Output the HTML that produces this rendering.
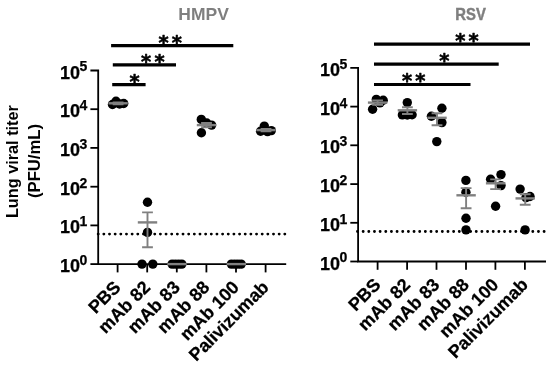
<!DOCTYPE html>
<html><head><meta charset="utf-8"><title>Lung viral titer</title>
<style>
html,body{margin:0;padding:0;background:#fff;}
svg{display:block;}
text{font-family:"Liberation Sans",Arial,sans-serif;font-weight:bold;fill:#000;}
.tk,.sup,.xl{stroke:#000;stroke-width:0.25px;}
circle{fill:#000;}
.axl{fill:none;stroke:#000;stroke-width:1.8;}
.lod{stroke:#000;stroke-width:2.9;stroke-linecap:round;stroke-dasharray:0 5.655;}
.eb{fill:none;stroke:#808080;stroke-width:1.9;}
.em{stroke:#808080;stroke-width:2.4;}
.sg{stroke:#000;stroke-width:3.2;}
.tk{font-size:18px;}
.sup{font-size:14px;}
.xl{font-size:18px;}
.st{font-family:"DejaVu Sans",sans-serif;font-size:20px;letter-spacing:3.25px;stroke:#000;stroke-width:0.6px;stroke-linejoin:round;}
.ti{font-size:17px;fill:#7f7f7f;}
.ti2{stroke:#7f7f7f;stroke-width:0.45px;}
.yl{font-size:17px;}
</style></head><body>
<svg width="550" height="370" viewBox="0 0 550 370">
<rect width="550" height="370" fill="#fff"/>
<text x="203.6" y="19.7" text-anchor="middle" class="ti" textLength="50.5" lengthAdjust="spacingAndGlyphs">HMPV</text>
<text x="470.6" y="19.8" text-anchor="middle" class="ti ti2" textLength="30.5" lengthAdjust="spacingAndGlyphs">RSV</text>
<line x1="98.2" y1="234.1" x2="286.2" y2="234.1" class="lod"/>
<path d="M90.4 70.5 H98.2 V264.1 H286.2" class="axl"/>
<text x="80.1" y="78.5" text-anchor="end" class="tk">10</text>
<text x="79.5" y="71.4" class="sup">5</text>
<line x1="90.4" y1="109.2" x2="98.2" y2="109.2" class="axl"/>
<text x="80.1" y="117.2" text-anchor="end" class="tk">10</text>
<text x="79.5" y="110.1" class="sup">4</text>
<line x1="90.4" y1="147.9" x2="98.2" y2="147.9" class="axl"/>
<text x="80.1" y="155.9" text-anchor="end" class="tk">10</text>
<text x="79.5" y="148.8" class="sup">3</text>
<line x1="90.4" y1="186.7" x2="98.2" y2="186.7" class="axl"/>
<text x="80.1" y="194.7" text-anchor="end" class="tk">10</text>
<text x="79.5" y="187.6" class="sup">2</text>
<line x1="90.4" y1="225.4" x2="98.2" y2="225.4" class="axl"/>
<text x="80.1" y="233.4" text-anchor="end" class="tk">10</text>
<text x="79.5" y="226.3" class="sup">1</text>
<line x1="90.4" y1="264.1" x2="98.2" y2="264.1" class="axl"/>
<text x="80.1" y="272.1" text-anchor="end" class="tk">10</text>
<text x="79.5" y="265.0" class="sup">0</text>
<line x1="117.6" y1="264.1" x2="117.6" y2="272.4" class="axl"/>
<line x1="147.2" y1="264.1" x2="147.2" y2="272.4" class="axl"/>
<line x1="176.8" y1="264.1" x2="176.8" y2="272.4" class="axl"/>
<line x1="206.4" y1="264.1" x2="206.4" y2="272.4" class="axl"/>
<line x1="236.0" y1="264.1" x2="236.0" y2="272.4" class="axl"/>
<line x1="265.6" y1="264.1" x2="265.6" y2="272.4" class="axl"/>
<circle cx="112.5" cy="104.5" r="4.7"/>
<circle cx="116" cy="101.3" r="4.7"/>
<circle cx="119.6" cy="104.0" r="4.7"/>
<circle cx="123.7" cy="103.5" r="4.7"/>
<circle cx="147.5" cy="202.2" r="4.7"/>
<circle cx="147.5" cy="232.4" r="4.7"/>
<circle cx="142" cy="264.1" r="4.7"/>
<circle cx="152.8" cy="264.1" r="4.7"/>
<circle cx="172.1" cy="264.1" r="4.7"/>
<circle cx="175.3" cy="264.1" r="4.7"/>
<circle cx="178.6" cy="264.1" r="4.7"/>
<circle cx="181.8" cy="264.1" r="4.7"/>
<circle cx="201.3" cy="119.4" r="4.7"/>
<circle cx="201.4" cy="132.8" r="4.7"/>
<circle cx="206.7" cy="123" r="4.7"/>
<circle cx="211.6" cy="125.1" r="4.7"/>
<circle cx="231.4" cy="264.1" r="4.7"/>
<circle cx="234.7" cy="264.1" r="4.7"/>
<circle cx="237.9" cy="264.1" r="4.7"/>
<circle cx="241.2" cy="264.1" r="4.7"/>
<circle cx="260.6" cy="131.2" r="4.7"/>
<circle cx="264.3" cy="126.1" r="4.7"/>
<circle cx="267.5" cy="131.6" r="4.7"/>
<circle cx="271.3" cy="130.6" r="4.7"/>
<path d="M118.1 102.4 V104.2 M112.7 102.4 H123.5 M112.7 104.2 H123.5" class="eb"/>
<line x1="108.4" y1="103.3" x2="127.8" y2="103.3" class="em"/>
<path d="M147.5 212.4 V247.3 M142.1 212.4 H152.9 M142.1 247.3 H152.9" class="eb"/>
<line x1="137.8" y1="222.4" x2="157.2" y2="222.4" class="em"/>
<line x1="167.3" y1="264.1" x2="186.7" y2="264.1" class="em"/>
<path d="M206.5 123 V127.2 M201.1 123 H211.9 M201.1 127.2 H211.9" class="eb"/>
<line x1="196.8" y1="125.1" x2="216.2" y2="125.1" class="em"/>
<line x1="226.6" y1="264.1" x2="246.0" y2="264.1" class="em"/>
<path d="M266 128.9 V131.3 M260.6 128.9 H271.4 M260.6 131.3 H271.4" class="eb"/>
<line x1="256.3" y1="130.1" x2="275.7" y2="130.1" class="em"/>
<line x1="112.2" y1="84.7" x2="145.6" y2="84.7" class="sg"/>
<text transform="translate(129.5,87.5) scale(0.97,1)" class="st">*</text>
<line x1="112.8" y1="64.8" x2="176" y2="64.8" class="sg"/>
<text transform="translate(141.1,67.6) scale(0.97,1)" class="st">**</text>
<line x1="111.1" y1="45.7" x2="233.3" y2="45.7" class="sg"/>
<text transform="translate(158.5,48.5) scale(0.97,1)" class="st">**</text>
<text transform="translate(121.8,288.4) rotate(-45)" text-anchor="end" class="xl">PBS</text>
<text transform="translate(151.4,288.4) rotate(-45)" text-anchor="end" class="xl">mAb 82</text>
<text transform="translate(181.0,288.4) rotate(-45)" text-anchor="end" class="xl">mAb 83</text>
<text transform="translate(210.6,288.4) rotate(-45)" text-anchor="end" class="xl">mAb 88</text>
<text transform="translate(240.2,288.4) rotate(-45)" text-anchor="end" class="xl">mAb 100</text>
<text transform="translate(269.8,288.4) rotate(-45)" text-anchor="end" class="xl">Palivizumab</text>
<line x1="357.5" y1="231.5" x2="546" y2="231.5" class="lod"/>
<path d="M350.3 67.9 H358.1 V261.5 H546" class="axl"/>
<text x="340.0" y="75.9" text-anchor="end" class="tk">10</text>
<text x="339.4" y="68.8" class="sup">5</text>
<line x1="350.3" y1="106.6" x2="358.1" y2="106.6" class="axl"/>
<text x="340.0" y="114.6" text-anchor="end" class="tk">10</text>
<text x="339.4" y="107.5" class="sup">4</text>
<line x1="350.3" y1="145.3" x2="358.1" y2="145.3" class="axl"/>
<text x="340.0" y="153.3" text-anchor="end" class="tk">10</text>
<text x="339.4" y="146.2" class="sup">3</text>
<line x1="350.3" y1="184.1" x2="358.1" y2="184.1" class="axl"/>
<text x="340.0" y="192.1" text-anchor="end" class="tk">10</text>
<text x="339.4" y="185.0" class="sup">2</text>
<line x1="350.3" y1="222.8" x2="358.1" y2="222.8" class="axl"/>
<text x="340.0" y="230.8" text-anchor="end" class="tk">10</text>
<text x="339.4" y="223.7" class="sup">1</text>
<line x1="350.3" y1="261.5" x2="358.1" y2="261.5" class="axl"/>
<text x="340.0" y="269.5" text-anchor="end" class="tk">10</text>
<text x="339.4" y="262.4" class="sup">0</text>
<line x1="377.6" y1="261.5" x2="377.6" y2="269.8" class="axl"/>
<line x1="407.1" y1="261.5" x2="407.1" y2="269.8" class="axl"/>
<line x1="436.5" y1="261.5" x2="436.5" y2="269.8" class="axl"/>
<line x1="466.0" y1="261.5" x2="466.0" y2="269.8" class="axl"/>
<line x1="495.4" y1="261.5" x2="495.4" y2="269.8" class="axl"/>
<line x1="524.9" y1="261.5" x2="524.9" y2="269.8" class="axl"/>
<circle cx="372.6" cy="109.3" r="4.7"/>
<circle cx="376.3" cy="99.4" r="4.7"/>
<circle cx="383.2" cy="100.2" r="4.7"/>
<circle cx="379.9" cy="102.9" r="4.7"/>
<circle cx="407.3" cy="102.6" r="4.7"/>
<circle cx="402.4" cy="114.9" r="4.7"/>
<circle cx="407.3" cy="115" r="4.7"/>
<circle cx="412.1" cy="114.7" r="4.7"/>
<circle cx="441.9" cy="108.2" r="4.7"/>
<circle cx="431.4" cy="116.3" r="4.7"/>
<circle cx="441.9" cy="122.6" r="4.7"/>
<circle cx="436.8" cy="141.6" r="4.7"/>
<circle cx="465.9" cy="180.4" r="4.7"/>
<circle cx="465.9" cy="192.3" r="4.7"/>
<circle cx="466" cy="218.3" r="4.7"/>
<circle cx="466" cy="229.9" r="4.7"/>
<circle cx="490.6" cy="179.2" r="4.7"/>
<circle cx="501" cy="174.6" r="4.7"/>
<circle cx="501" cy="185.6" r="4.7"/>
<circle cx="495.6" cy="206.2" r="4.7"/>
<circle cx="520.1" cy="189.1" r="4.7"/>
<circle cx="526" cy="197.6" r="4.7"/>
<circle cx="530" cy="196.5" r="4.7"/>
<circle cx="525.1" cy="229.9" r="4.7"/>
<path d="M377.6 100.4 V104.8 M372.2 100.4 H383.0 M372.2 104.8 H383.0" class="eb"/>
<line x1="367.9" y1="102.6" x2="387.3" y2="102.6" class="em"/>
<path d="M407.4 107.3 V114 M402.0 107.3 H412.8 M402.0 114 H412.8" class="eb"/>
<line x1="397.7" y1="110.3" x2="417.1" y2="110.3" class="em"/>
<path d="M437 113.2 V125.3 M431.6 113.2 H442.4 M431.6 125.3 H442.4" class="eb"/>
<line x1="427.3" y1="117.8" x2="446.7" y2="117.8" class="em"/>
<path d="M466.1 188.1 V208.3 M460.7 188.1 H471.5 M460.7 208.3 H471.5" class="eb"/>
<line x1="456.4" y1="195.3" x2="475.8" y2="195.3" class="em"/>
<path d="M495.6 179.4 V189.1 M490.2 179.4 H501.0 M490.2 189.1 H501.0" class="eb"/>
<line x1="485.9" y1="183.3" x2="505.3" y2="183.3" class="em"/>
<path d="M525.2 194.3 V204.7 M519.8 194.3 H530.6 M519.8 204.7 H530.6" class="eb"/>
<line x1="515.5" y1="198.4" x2="534.9" y2="198.4" class="em"/>
<line x1="374" y1="84.5" x2="470.5" y2="84.5" class="sg"/>
<text transform="translate(401.9,87.3) scale(0.97,1)" class="st">**</text>
<line x1="374" y1="64.1" x2="498.7" y2="64.1" class="sg"/>
<text transform="translate(439.2,66.9) scale(0.97,1)" class="st">*</text>
<line x1="374" y1="44.1" x2="530" y2="44.1" class="sg"/>
<text transform="translate(455.2,46.9) scale(0.97,1)" class="st">**</text>
<text transform="translate(381.8,285.8) rotate(-45)" text-anchor="end" class="xl">PBS</text>
<text transform="translate(411.3,285.8) rotate(-45)" text-anchor="end" class="xl">mAb 82</text>
<text transform="translate(440.7,285.8) rotate(-45)" text-anchor="end" class="xl">mAb 83</text>
<text transform="translate(470.2,285.8) rotate(-45)" text-anchor="end" class="xl">mAb 88</text>
<text transform="translate(499.6,285.8) rotate(-45)" text-anchor="end" class="xl">mAb 100</text>
<text transform="translate(529.1,285.8) rotate(-45)" text-anchor="end" class="xl">Palivizumab</text>
<text transform="translate(17.5,161.6) rotate(-90)" text-anchor="middle" class="yl" textLength="113" lengthAdjust="spacingAndGlyphs">Lung viral titer</text>
<text transform="translate(39.7,161) rotate(-90)" text-anchor="middle" class="yl" textLength="74" lengthAdjust="spacingAndGlyphs">(PFU/mL)</text>
</svg>
</body></html>
